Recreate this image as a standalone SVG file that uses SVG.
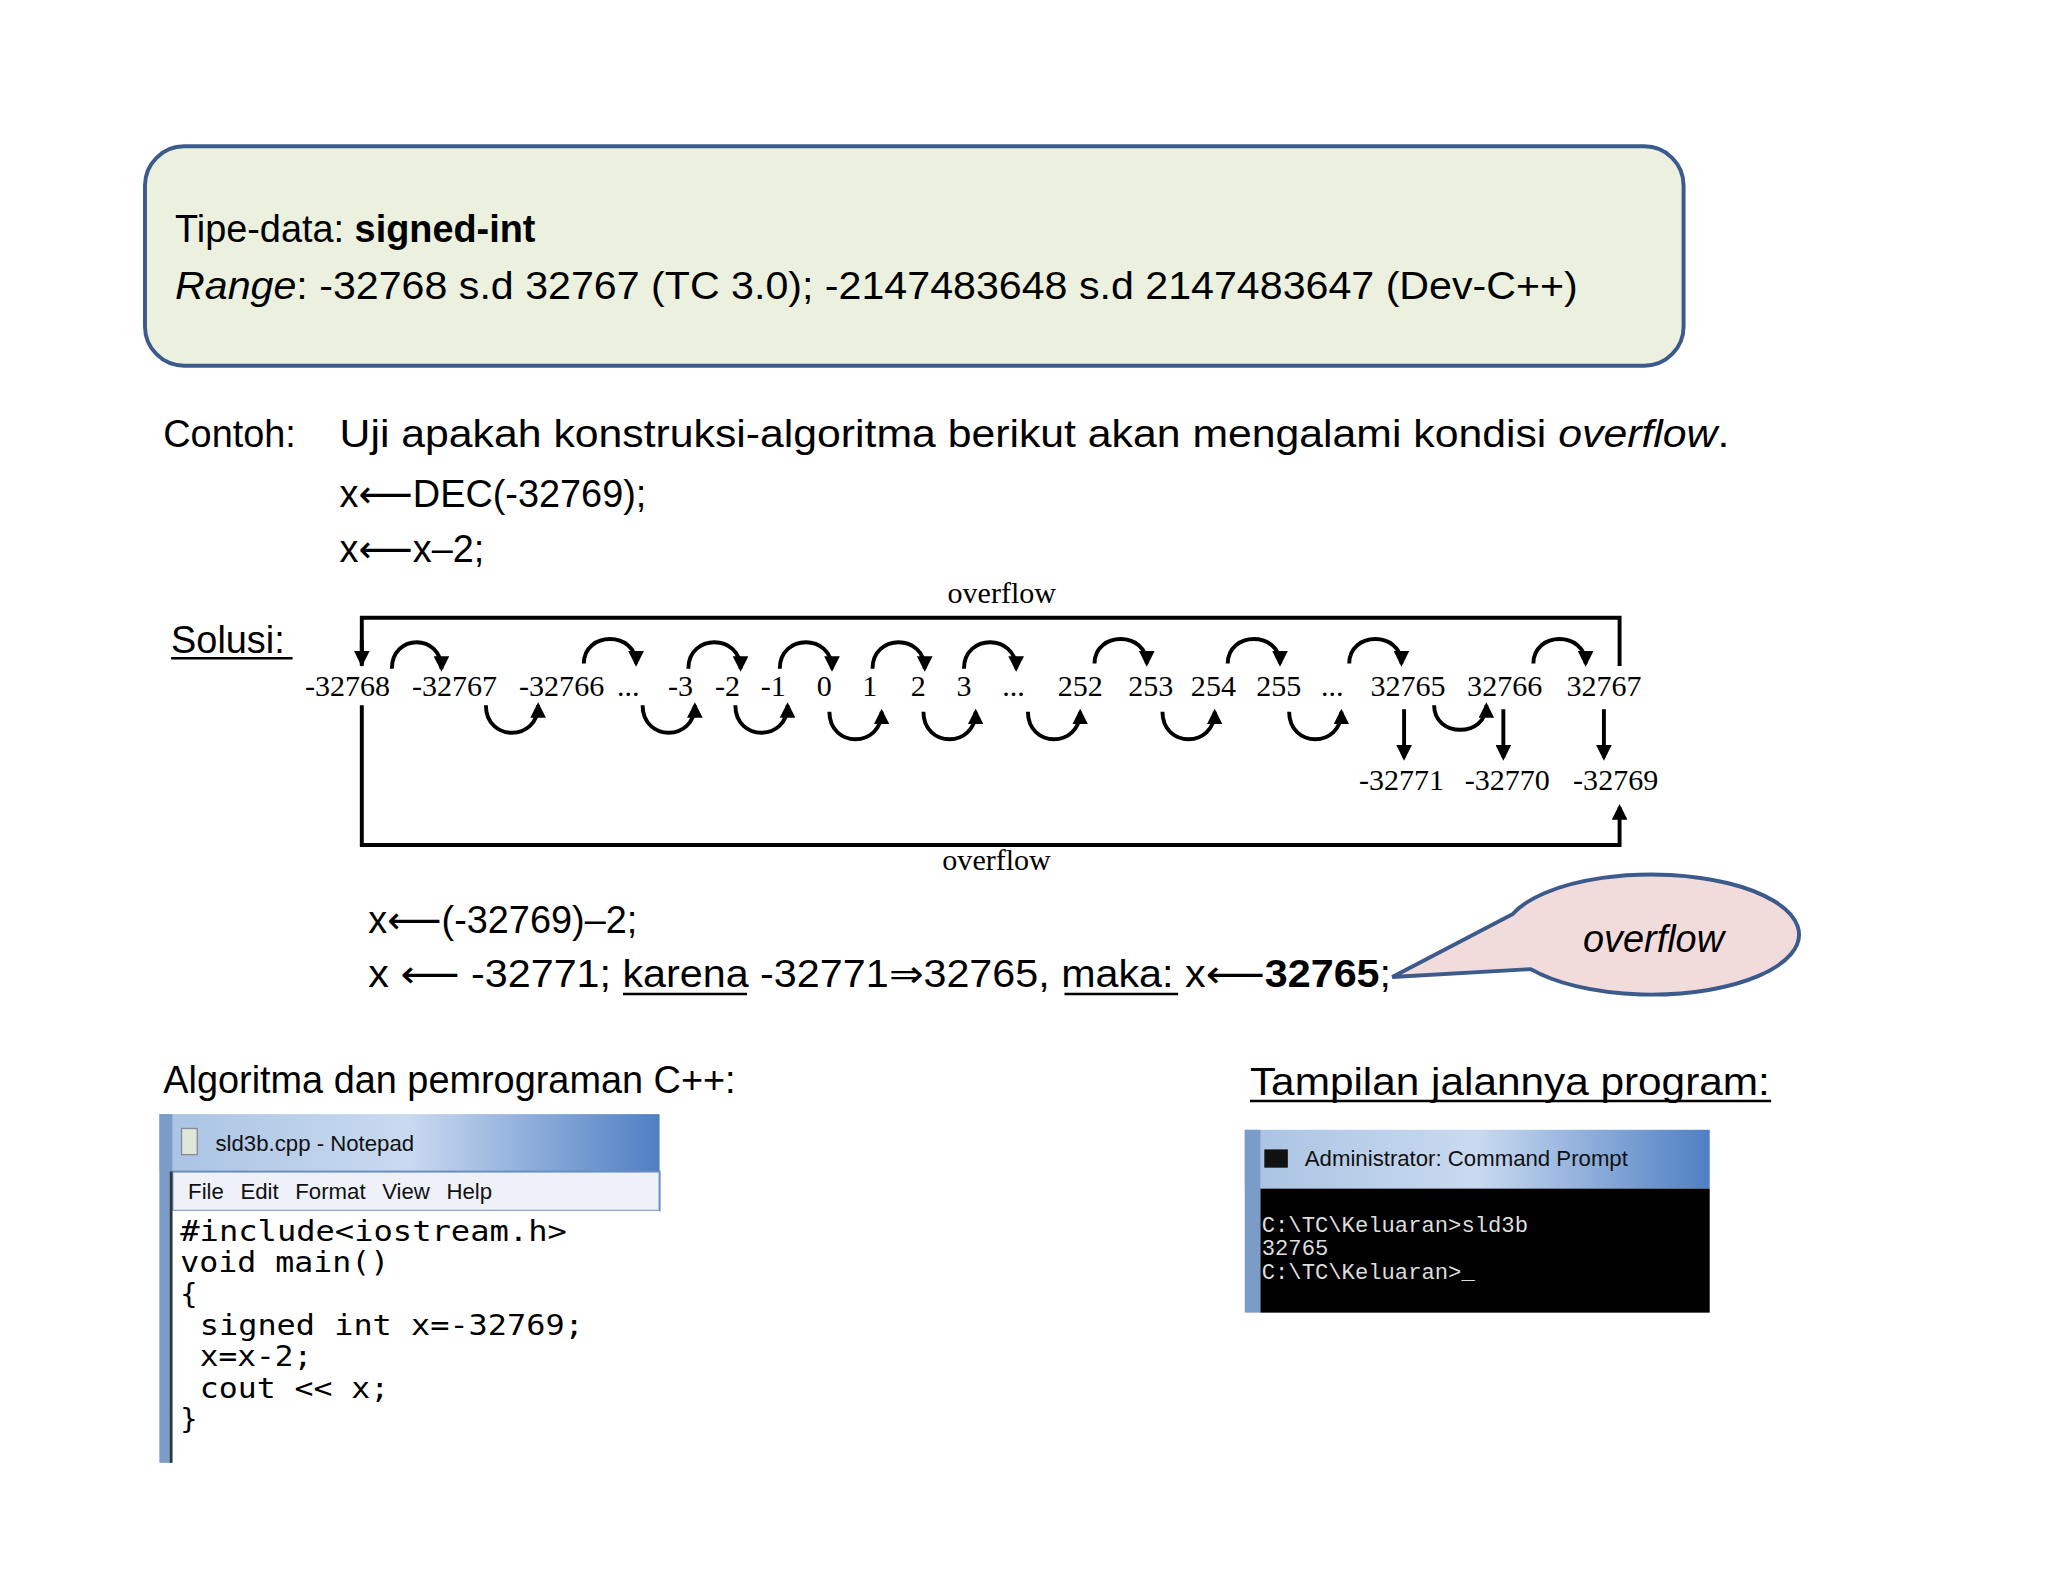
<svg xmlns="http://www.w3.org/2000/svg" width="2048" height="1582" viewBox="0 0 2048 1582">
<defs>
<style>
.t{font-family:"Liberation Sans",Arial,sans-serif;font-size:29px;fill:#000}
.a{font-family:"DejaVu Sans",sans-serif}
.tm{font-family:"Liberation Serif","Times New Roman",serif;font-size:23px;fill:#000}
.c{fill:none;stroke:#000;stroke-width:3}
.mono{font-family:"DejaVu Sans Mono","Liberation Mono",monospace;font-size:22px;fill:#000}
</style>
<marker id="ah" viewBox="0 0 10 10" refX="8" refY="5" markerWidth="4" markerHeight="4" orient="auto-start-reverse"><path d="M0,0 L10,5 L0,10 z" fill="#000"/></marker>
<linearGradient id="tb" x1="0" y1="0" x2="1" y2="0"><stop offset="0" stop-color="#a9c3e3"/><stop offset="0.5" stop-color="#c9daf0"/><stop offset="1" stop-color="#4f7fc4"/></linearGradient>
</defs>
<rect width="2048" height="1582" fill="#fff"/>
<g transform="scale(1.30612)">
<g id="box">
<rect x="111" y="112" width="1178" height="168" rx="30" fill="#ebf1de" stroke="#3c5a8c" stroke-width="3"/>
<text class="t" x="134" y="185">Tipe-data: <tspan font-weight="bold">signed-int</tspan></text>
<text class="t" x="134" y="229" textLength="1074" lengthAdjust="spacingAndGlyphs"><tspan font-style="italic">Range</tspan>: -32768 s.d 32767 (TC 3.0); -2147483648 s.d 2147483647 (Dev-C++)</text>
</g>
<g id="contoh">
<text class="t" x="125" y="342">Contoh:</text>
<text class="t" x="260" y="342" textLength="1064" lengthAdjust="spacingAndGlyphs">Uji apakah konstruksi-algoritma berikut akan mengalami kondisi <tspan font-style="italic">overflow</tspan>.</text>
<text class="t" x="260" y="388">x<tspan class="a">⟵</tspan>DEC(-32769);</text>
<text class="t" x="260" y="430">x<tspan class="a">⟵</tspan>x–2;</text>
<text class="t" x="131" y="500">Solusi:</text>
<line x1="131" y1="504" x2="224" y2="504" stroke="#000" stroke-width="2"/>
</g>
<g id="diagram">
<path class="c" d="M277,510 V473 H1240 V510"/>
<line x1="277" y1="490" x2="277" y2="508" stroke="#000" stroke-width="3" marker-end="url(#ah)"/>
<path class="c" d="M277,540 V647 H1240 V618" marker-end="url(#ah)"/>
<text class="tm" x="767" y="462" text-anchor="middle">overflow</text>
<text class="tm" x="763" y="666" text-anchor="middle">overflow</text>
<g class="tm" text-anchor="middle">
<text x="266" y="533">-32768</text><text x="348" y="533">-32767</text><text x="430" y="533">-32766</text><text x="481" y="533">...</text>
<text x="521" y="533">-3</text><text x="557" y="533">-2</text><text x="592" y="533">-1</text><text x="631" y="533">0</text>
<text x="666" y="533">1</text><text x="703" y="533">2</text><text x="738" y="533">3</text><text x="776" y="533">...</text>
<text x="827" y="533">252</text><text x="881" y="533">253</text><text x="929" y="533">254</text><text x="979" y="533">255</text>
<text x="1020" y="533">...</text><text x="1078" y="533">32765</text><text x="1152" y="533">32766</text><text x="1228" y="533">32767</text>
<text x="1073" y="605">-32771</text><text x="1154" y="605">-32770</text><text x="1237" y="605">-32769</text>
</g>
<g class="c" marker-end="url(#ah)">
<path d="M300,512 C300,485 338,485 338,512"/><path d="M447,508 C447,483 487,483 487,508"/>
<path d="M527,512 C527,485 567,485 567,512"/><path d="M597,512 C597,485 637,485 637,512"/>
<path d="M668,512 C668,485 708,485 708,512"/><path d="M738,512 C738,485 778,485 778,512"/>
<path d="M838,508 C838,483 878,483 878,508"/><path d="M940,508 C940,483 980,483 980,508"/>
<path d="M1033,508 C1033,483 1073,483 1073,508"/><path d="M1174,508 C1174,483 1214,483 1214,508"/>
<path d="M372,540 C372,568 412,568 412,540"/><path d="M492,540 C492,568 532,568 532,540"/>
<path d="M563,540 C563,568 603,568 603,540"/><path d="M635,545 C635,573 675,573 675,545"/>
<path d="M707,545 C707,573 747,573 747,545"/><path d="M787,545 C787,573 827,573 827,545"/>
<path d="M890,545 C890,573 930,573 930,545"/><path d="M987,545 C987,573 1027,573 1027,545"/>
<path d="M1098,540 C1098,565 1138,565 1138,540"/>
<path d="M1075,543 V580"/><path d="M1151,543 V580"/><path d="M1228,543 V580"/>
</g>
</g>
<g id="result">
<text class="t" x="282" y="714">x<tspan class="a">⟵</tspan>(-32769)–2;</text>
<text class="t" x="282" y="756" textLength="783" lengthAdjust="spacingAndGlyphs">x <tspan class="a">⟵</tspan> -32771; karena -32771⇒32765, maka: x<tspan class="a">⟵</tspan><tspan font-weight="bold">32765</tspan>;</text>
<line x1="477" y1="761" x2="572" y2="761" stroke="#000" stroke-width="2"/>
<line x1="815" y1="761" x2="902" y2="761" stroke="#000" stroke-width="2"/>
</g>
<g id="callout">
<path d="M1172,742 A113,46 0 1 0 1158,700 L1066,748 Z" fill="#f2dcdb" stroke="#3c5a8c" stroke-width="3"/>
<text class="t" x="1266" y="729" text-anchor="middle" font-style="italic">overflow</text>
</g>
<g id="labels">
<text class="t" x="125" y="837">Algoritma dan pemrograman C++:</text>
<text class="t" x="957" y="838" textLength="398" lengthAdjust="spacingAndGlyphs">Tampilan jalannya program:</text>
<line x1="957" y1="843" x2="1356" y2="843" stroke="#000" stroke-width="2"/>
</g>
<g id="notepad">
<rect x="122" y="853" width="383" height="44" fill="url(#tb)"/>
<rect x="139" y="864" width="12" height="20" fill="#dfe8d8" stroke="#889" stroke-width="1"/>
<text x="165" y="881" font-family="Liberation Sans,sans-serif" font-size="17" fill="#111">sld3b.cpp - Notepad</text>
<rect x="132" y="897" width="373" height="30" fill="#eef2f8" stroke="#6a8cc0" stroke-width="1.5"/>
<text x="144" y="918" font-family="Liberation Sans,sans-serif" font-size="17" fill="#111" word-spacing="8">File Edit Format View Help</text>
<rect x="132" y="927" width="373" height="193" fill="#fff"/>
<rect x="122" y="853" width="10" height="267" fill="#7c9cc8"/>
<line x1="131" y1="897" x2="131" y2="1120" stroke="#333" stroke-width="2"/>
<g class="mono">
<text x="138" y="950" textLength="296" lengthAdjust="spacingAndGlyphs">#include&lt;iostream.h&gt;</text>
<text x="138" y="974" textLength="160" lengthAdjust="spacingAndGlyphs">void main()</text>
<text x="138" y="998">{</text>
<text x="153" y="1022" textLength="294" lengthAdjust="spacingAndGlyphs">signed int x=-32769;</text>
<text x="153" y="1046" textLength="86" lengthAdjust="spacingAndGlyphs">x=x-2;</text>
<text x="153" y="1070" textLength="145" lengthAdjust="spacingAndGlyphs">cout &lt;&lt; x;</text>
<text x="138" y="1094">}</text>
</g>
</g>
<g id="cmd">
<rect x="953" y="865" width="356" height="45" fill="url(#tb)"/>
<rect x="968" y="880" width="18" height="14" fill="#111"/>
<text x="999" y="893" font-family="Liberation Sans,sans-serif" font-size="17" fill="#111">Administrator: Command Prompt</text>
<rect x="953" y="865" width="12" height="140" fill="#7c9cc8"/>
<rect x="965" y="910" width="344" height="95" fill="#000"/>
<g font-family="Liberation Mono,monospace" font-size="17" fill="#ddd">
<text x="966" y="943">C:\TC\Keluaran&gt;sld3b</text>
<text x="966" y="961">32765</text>
<text x="966" y="979">C:\TC\Keluaran&gt;_</text>
</g>
</g>
</g>
</svg>
